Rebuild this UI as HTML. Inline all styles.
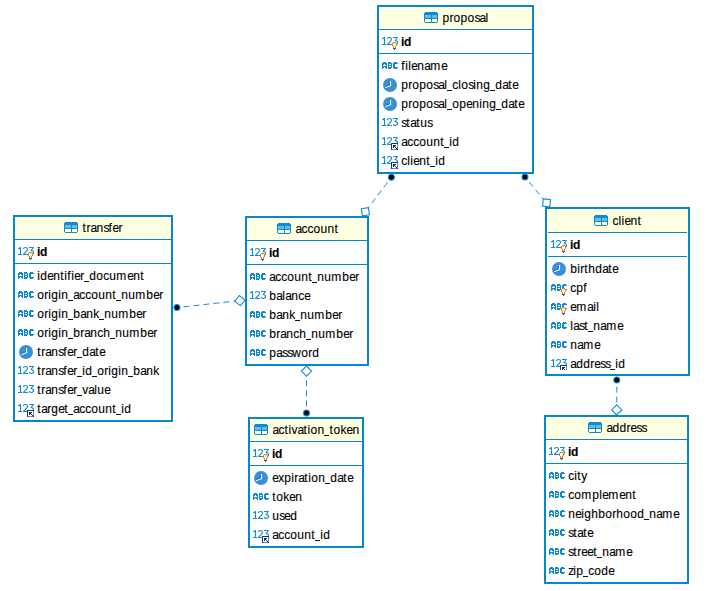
<!DOCTYPE html>
<html><head><meta charset="utf-8"><title>ER Diagram</title>
<style>
html,body{margin:0;padding:0;background:#fff;}
body{width:713px;height:591px;overflow:hidden;font-family:"Liberation Sans",sans-serif;}
svg{display:block;}
text{font-family:"Liberation Sans",sans-serif;font-size:12px;fill:#000;stroke:#000;stroke-width:.12px;}
text.b{font-weight:bold;}
</style></head>
<body>
<svg width="713" height="591" viewBox="0 0 713 591">
<rect width="713" height="591" fill="#fff"/>
<path d="M393.80 174.00L362.30 215.80" stroke="#1a8fd3" stroke-width="1" stroke-dasharray="6 4" stroke-dashoffset="-0.6" fill="none"/>
<path d="M362.30 215.80L361.30 208.66L368.44 207.65L369.44 214.80z" fill="#fff" stroke="#1a8fd3" stroke-width="1.15"/>
<circle cx="391.39" cy="177.19" r="3" fill="#000" stroke="#1a8fd3" stroke-width="1.1"/>
<path d="M522.40 174.00L549.80 206.80" stroke="#1a8fd3" stroke-width="1" stroke-dasharray="6 4" stroke-dashoffset="-0.6" fill="none"/>
<path d="M549.80 206.80L542.62 206.16L543.26 198.97L550.44 199.62z" fill="#fff" stroke="#1a8fd3" stroke-width="1.15"/>
<circle cx="524.96" cy="177.07" r="3" fill="#000" stroke="#1a8fd3" stroke-width="1.1"/>
<path d="M173.00 308.00L245.00 300.00" stroke="#1a8fd3" stroke-width="1" stroke-dasharray="6 4" stroke-dashoffset="-0.6" fill="none"/>
<path d="M245.00 300.00L240.49 305.63L234.86 301.13L239.37 295.49z" fill="#fff" stroke="#1a8fd3" stroke-width="1.15"/>
<circle cx="176.98" cy="307.56" r="3" fill="#000" stroke="#1a8fd3" stroke-width="1.1"/>
<path d="M306.50 417.00L306.50 366.00" stroke="#1a8fd3" stroke-width="1" stroke-dasharray="6 4" stroke-dashoffset="-0.6" fill="none"/>
<path d="M306.50 366.00L311.60 371.10L306.50 376.20L301.40 371.10z" fill="#fff" stroke="#1a8fd3" stroke-width="1.15"/>
<circle cx="306.50" cy="413.00" r="3" fill="#000" stroke="#1a8fd3" stroke-width="1.1"/>
<path d="M616.80 376.00L616.80 415.00" stroke="#1a8fd3" stroke-width="1" stroke-dasharray="6 4" stroke-dashoffset="-0.6" fill="none"/>
<path d="M616.80 415.00L611.70 409.90L616.80 404.80L621.90 409.90z" fill="#fff" stroke="#1a8fd3" stroke-width="1.15"/>
<circle cx="616.80" cy="380.00" r="3" fill="#000" stroke="#1a8fd3" stroke-width="1.1"/>
<rect x="378" y="6" width="155" height="167" fill="#ffffe1" stroke="#0586cd" stroke-width="2"/>
<rect x="379" y="30" width="153" height="142" fill="#fff"/>
<rect x="379" y="29" width="153" height="1" fill="#0586cd"/>
<rect x="379" y="53" width="153" height="1" fill="#0586cd"/>
<path d="M425 12h12v1h-12zM424 13h14v1h-14zM424 14h14v1h-14zM424 15h1v1h-1zM431 15h1v1h-1zM437 15h1v1h-1zM424 16h1v1h-1zM431 16h1v1h-1zM437 16h1v1h-1zM424 17h1v1h-1zM431 17h1v1h-1zM437 17h1v1h-1zM424 18h14v1h-14zM424 19h1v1h-1zM431 19h1v1h-1zM437 19h1v1h-1zM424 20h1v1h-1zM431 20h1v1h-1zM437 20h1v1h-1zM424 21h1v1h-1zM431 21h1v1h-1zM437 21h1v1h-1zM425 22h12v1h-12z" fill="#128ad1"/><path d="M425 15h6v1h-6zM432 15h5v1h-5zM425 16h6v1h-6zM432 16h5v1h-5zM425 17h6v1h-6zM432 17h5v1h-5z" fill="#62bdee"/>
<text class="t" x="442.5 449.5 453.5 460.5 467.5 474.5 479.5 485.5" y="22">proposal</text>
<path transform="translate(382 37)" d="M0.3 2.1L2.5 0.6V7.5M0 7.5H4.1M5.4 2.0Q5.5 0.5 7.5 0.5Q9.5 0.5 9.5 2.1Q9.5 3.2 8.4 4.3L5.6 7.1V7.5H10M11 0.5H15.4L13.1 3.5Q15.5 3.5 15.5 5.6Q15.5 7.5 13.4 7.5Q11.8 7.5 11.2 6.2" fill="none" stroke="#128ad1" stroke-width="1.15" stroke-linejoin="round"/>
<path d="M393 42h3v1h-3zM392 43h1v1h-1zM396 43h1v1h-1zM392 44h1v1h-1zM396 44h1v1h-1zM392 45h1v1h-1zM396 45h1v1h-1zM393 46h1v1h-1zM395 46h1v1h-1zM393 47h1v1h-1zM395 47h1v1h-1z" fill="#e8820e"/><path d="M393 43h3v1h-3z" fill="#ffe6a6"/><path d="M393 44h3v1h-3zM393 45h2v1h-2zM394 46h1v1h-1zM394 47h1v1h-1z" fill="#fffaf0"/><path d="M395 45h1v1h-1z" fill="#bfe2f8"/><path d="M393 48h3v1h-3zM394 49h1v1h-1z" fill="#3b5487"/>
<text class="b" x="401 404" y="46">id</text>
<path d="M383 62h3v1h-3zM388 62h3v1h-3zM394 62h3v1h-3zM382 63h5v1h-5zM388 63h4v1h-4zM393 63h5v1h-5zM382 64h2v1h-2zM385 64h2v1h-2zM388 64h1v1h-1zM391 64h1v1h-1zM393 64h2v1h-2zM382 65h1v1h-1zM386 65h1v1h-1zM388 65h4v1h-4zM393 65h2v1h-2zM382 66h5v1h-5zM388 66h1v1h-1zM391 66h1v1h-1zM393 66h2v1h-2zM382 67h2v1h-2zM385 67h2v1h-2zM388 67h4v1h-4zM393 67h5v1h-5zM382 68h1v1h-1zM386 68h1v1h-1zM388 68h3v1h-3zM394 68h3v1h-3z" fill="#128ad1"/>
<text class="t" x="401.3 405.3 408.3 411.3 417.3 424.3 430.3 441.3" y="70">filename</text>
<circle cx="390" cy="85" r="7" fill="#378fd8"/><path d="M389.5 81V85L385 86.8" fill="none" stroke="#1c74cc" stroke-width="1.2"/><path d="M390.5 81V85.9" fill="none" stroke="#fff" stroke-width="1.2"/><path d="M391.1 85.5L385.2 87.7" fill="none" stroke="#fff" stroke-width="1"/>
<text class="t" x="401.3 408.3 412.3 419.3 426.3 433.3 438.3 444.3" y="89">proposal</text><rect x="447" y="90" width="5" height="1" fill="#111"/><text class="t" x="452.3 458.3 461.3 468.3 473.3 476.3 483.3" y="89">closing</text><rect x="490" y="90" width="5" height="1" fill="#111"/><text class="t" x="495.3 502.3 508.3 512.3" y="89">date</text>
<circle cx="390" cy="104" r="7" fill="#378fd8"/><path d="M389.5 100V104L385 105.8" fill="none" stroke="#1c74cc" stroke-width="1.2"/><path d="M390.5 100V104.9" fill="none" stroke="#fff" stroke-width="1.2"/><path d="M391.1 104.5L385.2 106.7" fill="none" stroke="#fff" stroke-width="1"/>
<text class="t" x="401.3 408.3 412.3 419.3 426.3 433.3 438.3 444.3" y="108">proposal</text><rect x="447" y="109" width="5" height="1" fill="#111"/><text class="t" x="452.3 459.3 466.3 472.3 479.3 482.3 489.3" y="108">opening</text><rect x="496" y="109" width="5" height="1" fill="#111"/><text class="t" x="501.3 508.3 514.3 518.3" y="108">date</text>
<path transform="translate(382 118)" d="M0.3 2.1L2.5 0.6V7.5M0 7.5H4.1M5.4 2.0Q5.5 0.5 7.5 0.5Q9.5 0.5 9.5 2.1Q9.5 3.2 8.4 4.3L5.6 7.1V7.5H10M11 0.5H15.4L13.1 3.5Q15.5 3.5 15.5 5.6Q15.5 7.5 13.4 7.5Q11.8 7.5 11.2 6.2" fill="none" stroke="#128ad1" stroke-width="1.15" stroke-linejoin="round"/>
<text class="t" x="401.3 406.3 410.3 416.3 420.3 427.3" y="127">status</text>
<path transform="translate(382 137)" d="M0.3 2.1L2.5 0.6V7.5M0 7.5H4.1M5.4 2.0Q5.5 0.5 7.5 0.5Q9.5 0.5 9.5 2.1Q9.5 3.2 8.4 4.3L5.6 7.1V7.5H10M11 0.5H15.4L13.1 3.5Q15.5 3.5 15.5 5.6Q15.5 7.5 13.4 7.5Q11.8 7.5 11.2 6.2" fill="none" stroke="#128ad1" stroke-width="1.15" stroke-linejoin="round"/>
<rect x="391" y="143" width="7" height="7" fill="#fff"/><path d="M391 143h7v1h-7zM391 144h1v1h-1zM391 145h1v1h-1zM391 146h1v1h-1zM391 147h1v1h-1zM391 148h1v1h-1zM391 149h1v1h-1z" fill="#1c3a6e"/><path d="M397 144h1v1h-1zM397 145h1v1h-1zM397 146h1v1h-1zM397 147h1v1h-1zM397 148h1v1h-1zM392 149h6v1h-6z" fill="#6d84aa"/><path d="M393 145h3v1h-3zM393 146h2v1h-2zM393 147h1v1h-1zM395 147h1v1h-1zM396 148h1v1h-1zM397 149h1v1h-1z" fill="#14295a"/>
<text class="t" x="401.3 407.3 413.3 419.3 426.3 433.3 440.3" y="146">account</text><rect x="444" y="147" width="5" height="1" fill="#111"/><text class="t" x="449.3 452.3" y="146">id</text>
<path transform="translate(382 156)" d="M0.3 2.1L2.5 0.6V7.5M0 7.5H4.1M5.4 2.0Q5.5 0.5 7.5 0.5Q9.5 0.5 9.5 2.1Q9.5 3.2 8.4 4.3L5.6 7.1V7.5H10M11 0.5H15.4L13.1 3.5Q15.5 3.5 15.5 5.6Q15.5 7.5 13.4 7.5Q11.8 7.5 11.2 6.2" fill="none" stroke="#128ad1" stroke-width="1.15" stroke-linejoin="round"/>
<rect x="391" y="162" width="7" height="7" fill="#fff"/><path d="M391 162h7v1h-7zM391 163h1v1h-1zM391 164h1v1h-1zM391 165h1v1h-1zM391 166h1v1h-1zM391 167h1v1h-1zM391 168h1v1h-1z" fill="#1c3a6e"/><path d="M397 163h1v1h-1zM397 164h1v1h-1zM397 165h1v1h-1zM397 166h1v1h-1zM397 167h1v1h-1zM392 168h6v1h-6z" fill="#6d84aa"/><path d="M393 164h3v1h-3zM393 165h2v1h-2zM393 166h1v1h-1zM395 166h1v1h-1zM396 167h1v1h-1zM397 168h1v1h-1z" fill="#14295a"/>
<text class="t" x="401.3 407.3 410.3 413.3 419.3 426.3" y="165">client</text><rect x="430" y="166" width="5" height="1" fill="#111"/><text class="t" x="435.3 438.3" y="165">id</text>
<rect x="14" y="216" width="158" height="205" fill="#ffffe1" stroke="#0586cd" stroke-width="2"/>
<rect x="15" y="240" width="156" height="180" fill="#fff"/>
<rect x="15" y="239" width="156" height="1" fill="#0586cd"/>
<rect x="15" y="263" width="156" height="1" fill="#0586cd"/>
<path d="M65 222h12v1h-12zM64 223h14v1h-14zM64 224h14v1h-14zM64 225h1v1h-1zM71 225h1v1h-1zM77 225h1v1h-1zM64 226h1v1h-1zM71 226h1v1h-1zM77 226h1v1h-1zM64 227h1v1h-1zM71 227h1v1h-1zM77 227h1v1h-1zM64 228h14v1h-14zM64 229h1v1h-1zM71 229h1v1h-1zM77 229h1v1h-1zM64 230h1v1h-1zM71 230h1v1h-1zM77 230h1v1h-1zM64 231h1v1h-1zM71 231h1v1h-1zM77 231h1v1h-1zM65 232h12v1h-12z" fill="#128ad1"/><path d="M65 225h6v1h-6zM72 225h5v1h-5zM65 226h6v1h-6zM72 226h5v1h-5zM65 227h6v1h-6zM72 227h5v1h-5z" fill="#62bdee"/>
<text class="t" x="82.5 86.5 90.5 96.5 103.5 108.5 112.5 118.5" y="232">transfer</text>
<path transform="translate(18 247)" d="M0.3 2.1L2.5 0.6V7.5M0 7.5H4.1M5.4 2.0Q5.5 0.5 7.5 0.5Q9.5 0.5 9.5 2.1Q9.5 3.2 8.4 4.3L5.6 7.1V7.5H10M11 0.5H15.4L13.1 3.5Q15.5 3.5 15.5 5.6Q15.5 7.5 13.4 7.5Q11.8 7.5 11.2 6.2" fill="none" stroke="#128ad1" stroke-width="1.15" stroke-linejoin="round"/>
<path d="M29 252h3v1h-3zM28 253h1v1h-1zM32 253h1v1h-1zM28 254h1v1h-1zM32 254h1v1h-1zM28 255h1v1h-1zM32 255h1v1h-1zM29 256h1v1h-1zM31 256h1v1h-1zM29 257h1v1h-1zM31 257h1v1h-1z" fill="#e8820e"/><path d="M29 253h3v1h-3z" fill="#ffe6a6"/><path d="M29 254h3v1h-3zM29 255h2v1h-2zM30 256h1v1h-1zM30 257h1v1h-1z" fill="#fffaf0"/><path d="M31 255h1v1h-1z" fill="#bfe2f8"/><path d="M29 258h3v1h-3zM30 259h1v1h-1z" fill="#3b5487"/>
<text class="b" x="37 40" y="256">id</text>
<path d="M19 272h3v1h-3zM24 272h3v1h-3zM30 272h3v1h-3zM18 273h5v1h-5zM24 273h4v1h-4zM29 273h5v1h-5zM18 274h2v1h-2zM21 274h2v1h-2zM24 274h1v1h-1zM27 274h1v1h-1zM29 274h2v1h-2zM18 275h1v1h-1zM22 275h1v1h-1zM24 275h4v1h-4zM29 275h2v1h-2zM18 276h5v1h-5zM24 276h1v1h-1zM27 276h1v1h-1zM29 276h2v1h-2zM18 277h2v1h-2zM21 277h2v1h-2zM24 277h4v1h-4zM29 277h5v1h-5zM18 278h1v1h-1zM22 278h1v1h-1zM24 278h3v1h-3zM30 278h3v1h-3z" fill="#128ad1"/>
<text class="t" x="37.3 40.3 47.3 53.3 60.3 64.3 67.3 71.3 74.3 80.3" y="280">identifier</text><rect x="84" y="281" width="5" height="1" fill="#111"/><text class="t" x="89.3 96.3 103.3 109.3 116.3 127.3 133.3 140.3" y="280">document</text>
<path d="M19 291h3v1h-3zM24 291h3v1h-3zM30 291h3v1h-3zM18 292h5v1h-5zM24 292h4v1h-4zM29 292h5v1h-5zM18 293h2v1h-2zM21 293h2v1h-2zM24 293h1v1h-1zM27 293h1v1h-1zM29 293h2v1h-2zM18 294h1v1h-1zM22 294h1v1h-1zM24 294h4v1h-4zM29 294h2v1h-2zM18 295h5v1h-5zM24 295h1v1h-1zM27 295h1v1h-1zM29 295h2v1h-2zM18 296h2v1h-2zM21 296h2v1h-2zM24 296h4v1h-4zM29 296h5v1h-5zM18 297h1v1h-1zM22 297h1v1h-1zM24 297h3v1h-3zM30 297h3v1h-3z" fill="#128ad1"/>
<text class="t" x="37.3 44.3 48.3 51.3 58.3 61.3" y="299">origin</text><rect x="68" y="300" width="5" height="1" fill="#111"/><text class="t" x="73.3 79.3 85.3 91.3 98.3 105.3 112.3" y="299">account</text><rect x="116" y="300" width="5" height="1" fill="#111"/><text class="t" x="121.3 128.3 135.3 146.3 153.3 159.3" y="299">number</text>
<path d="M19 310h3v1h-3zM24 310h3v1h-3zM30 310h3v1h-3zM18 311h5v1h-5zM24 311h4v1h-4zM29 311h5v1h-5zM18 312h2v1h-2zM21 312h2v1h-2zM24 312h1v1h-1zM27 312h1v1h-1zM29 312h2v1h-2zM18 313h1v1h-1zM22 313h1v1h-1zM24 313h4v1h-4zM29 313h2v1h-2zM18 314h5v1h-5zM24 314h1v1h-1zM27 314h1v1h-1zM29 314h2v1h-2zM18 315h2v1h-2zM21 315h2v1h-2zM24 315h4v1h-4zM29 315h5v1h-5zM18 316h1v1h-1zM22 316h1v1h-1zM24 316h3v1h-3zM30 316h3v1h-3z" fill="#128ad1"/>
<text class="t" x="37.3 44.3 48.3 51.3 58.3 61.3" y="318">origin</text><rect x="68" y="319" width="5" height="1" fill="#111"/><text class="t" x="73.3 80.3 86.3 93.3" y="318">bank</text><rect x="99" y="319" width="5" height="1" fill="#111"/><text class="t" x="104.3 111.3 118.3 129.3 136.3 142.3" y="318">number</text>
<path d="M19 329h3v1h-3zM24 329h3v1h-3zM30 329h3v1h-3zM18 330h5v1h-5zM24 330h4v1h-4zM29 330h5v1h-5zM18 331h2v1h-2zM21 331h2v1h-2zM24 331h1v1h-1zM27 331h1v1h-1zM29 331h2v1h-2zM18 332h1v1h-1zM22 332h1v1h-1zM24 332h4v1h-4zM29 332h2v1h-2zM18 333h5v1h-5zM24 333h1v1h-1zM27 333h1v1h-1zM29 333h2v1h-2zM18 334h2v1h-2zM21 334h2v1h-2zM24 334h4v1h-4zM29 334h5v1h-5zM18 335h1v1h-1zM22 335h1v1h-1zM24 335h3v1h-3zM30 335h3v1h-3z" fill="#128ad1"/>
<text class="t" x="37.3 44.3 48.3 51.3 58.3 61.3" y="337">origin</text><rect x="68" y="338" width="5" height="1" fill="#111"/><text class="t" x="73.3 80.3 84.3 90.3 97.3 103.3" y="337">branch</text><rect x="110" y="338" width="5" height="1" fill="#111"/><text class="t" x="115.3 122.3 129.3 140.3 147.3 153.3" y="337">number</text>
<circle cx="26" cy="352" r="7" fill="#378fd8"/><path d="M25.5 348V352L21 353.8" fill="none" stroke="#1c74cc" stroke-width="1.2"/><path d="M26.5 348V352.9" fill="none" stroke="#fff" stroke-width="1.2"/><path d="M27.1 352.5L21.2 354.7" fill="none" stroke="#fff" stroke-width="1"/>
<text class="t" x="37.3 41.3 45.3 51.3 58.3 63.3 67.3 73.3" y="356">transfer</text><rect x="77" y="357" width="5" height="1" fill="#111"/><text class="t" x="82.3 89.3 95.3 99.3" y="356">date</text>
<path transform="translate(18 366)" d="M0.3 2.1L2.5 0.6V7.5M0 7.5H4.1M5.4 2.0Q5.5 0.5 7.5 0.5Q9.5 0.5 9.5 2.1Q9.5 3.2 8.4 4.3L5.6 7.1V7.5H10M11 0.5H15.4L13.1 3.5Q15.5 3.5 15.5 5.6Q15.5 7.5 13.4 7.5Q11.8 7.5 11.2 6.2" fill="none" stroke="#128ad1" stroke-width="1.15" stroke-linejoin="round"/>
<text class="t" x="37.3 41.3 45.3 51.3 58.3 63.3 67.3 73.3" y="375">transfer</text><rect x="77" y="376" width="5" height="1" fill="#111"/><text class="t" x="82.3 85.3" y="375">id</text><rect x="92" y="376" width="5" height="1" fill="#111"/><text class="t" x="97.3 104.3 108.3 111.3 118.3 121.3" y="375">origin</text><rect x="128" y="376" width="5" height="1" fill="#111"/><text class="t" x="133.3 140.3 146.3 153.3" y="375">bank</text>
<path transform="translate(18 385)" d="M0.3 2.1L2.5 0.6V7.5M0 7.5H4.1M5.4 2.0Q5.5 0.5 7.5 0.5Q9.5 0.5 9.5 2.1Q9.5 3.2 8.4 4.3L5.6 7.1V7.5H10M11 0.5H15.4L13.1 3.5Q15.5 3.5 15.5 5.6Q15.5 7.5 13.4 7.5Q11.8 7.5 11.2 6.2" fill="none" stroke="#128ad1" stroke-width="1.15" stroke-linejoin="round"/>
<text class="t" x="37.3 41.3 45.3 51.3 58.3 63.3 67.3 73.3" y="394">transfer</text><rect x="77" y="395" width="5" height="1" fill="#111"/><text class="t" x="82.3 88.3 94.3 97.3 104.3" y="394">value</text>
<path transform="translate(18 404)" d="M0.3 2.1L2.5 0.6V7.5M0 7.5H4.1M5.4 2.0Q5.5 0.5 7.5 0.5Q9.5 0.5 9.5 2.1Q9.5 3.2 8.4 4.3L5.6 7.1V7.5H10M11 0.5H15.4L13.1 3.5Q15.5 3.5 15.5 5.6Q15.5 7.5 13.4 7.5Q11.8 7.5 11.2 6.2" fill="none" stroke="#128ad1" stroke-width="1.15" stroke-linejoin="round"/>
<rect x="27" y="410" width="7" height="7" fill="#fff"/><path d="M27 410h7v1h-7zM27 411h1v1h-1zM27 412h1v1h-1zM27 413h1v1h-1zM27 414h1v1h-1zM27 415h1v1h-1zM27 416h1v1h-1z" fill="#1c3a6e"/><path d="M33 411h1v1h-1zM33 412h1v1h-1zM33 413h1v1h-1zM33 414h1v1h-1zM33 415h1v1h-1zM28 416h6v1h-6z" fill="#6d84aa"/><path d="M29 412h3v1h-3zM29 413h2v1h-2zM29 414h1v1h-1zM31 414h1v1h-1zM32 415h1v1h-1zM33 416h1v1h-1z" fill="#14295a"/>
<text class="t" x="37.3 41.3 47.3 51.3 58.3 64.3" y="413">target</text><rect x="68" y="414" width="5" height="1" fill="#111"/><text class="t" x="73.3 79.3 85.3 91.3 98.3 105.3 112.3" y="413">account</text><rect x="116" y="414" width="5" height="1" fill="#111"/><text class="t" x="121.3 124.3" y="413">id</text>
<rect x="246" y="217" width="122" height="148" fill="#ffffe1" stroke="#0586cd" stroke-width="2"/>
<rect x="247" y="241" width="120" height="123" fill="#fff"/>
<rect x="247" y="240" width="120" height="1" fill="#0586cd"/>
<rect x="247" y="264" width="120" height="1" fill="#0586cd"/>
<path d="M278 223h12v1h-12zM277 224h14v1h-14zM277 225h14v1h-14zM277 226h1v1h-1zM284 226h1v1h-1zM290 226h1v1h-1zM277 227h1v1h-1zM284 227h1v1h-1zM290 227h1v1h-1zM277 228h1v1h-1zM284 228h1v1h-1zM290 228h1v1h-1zM277 229h14v1h-14zM277 230h1v1h-1zM284 230h1v1h-1zM290 230h1v1h-1zM277 231h1v1h-1zM284 231h1v1h-1zM290 231h1v1h-1zM277 232h1v1h-1zM284 232h1v1h-1zM290 232h1v1h-1zM278 233h12v1h-12z" fill="#128ad1"/><path d="M278 226h6v1h-6zM285 226h5v1h-5zM278 227h6v1h-6zM285 227h5v1h-5zM278 228h6v1h-6zM285 228h5v1h-5z" fill="#62bdee"/>
<text class="t" x="295.5 301.5 307.5 313.5 320.5 327.5 334.5" y="233">account</text>
<path transform="translate(250 248)" d="M0.3 2.1L2.5 0.6V7.5M0 7.5H4.1M5.4 2.0Q5.5 0.5 7.5 0.5Q9.5 0.5 9.5 2.1Q9.5 3.2 8.4 4.3L5.6 7.1V7.5H10M11 0.5H15.4L13.1 3.5Q15.5 3.5 15.5 5.6Q15.5 7.5 13.4 7.5Q11.8 7.5 11.2 6.2" fill="none" stroke="#128ad1" stroke-width="1.15" stroke-linejoin="round"/>
<path d="M261 253h3v1h-3zM260 254h1v1h-1zM264 254h1v1h-1zM260 255h1v1h-1zM264 255h1v1h-1zM260 256h1v1h-1zM264 256h1v1h-1zM261 257h1v1h-1zM263 257h1v1h-1zM261 258h1v1h-1zM263 258h1v1h-1z" fill="#e8820e"/><path d="M261 254h3v1h-3z" fill="#ffe6a6"/><path d="M261 255h3v1h-3zM261 256h2v1h-2zM262 257h1v1h-1zM262 258h1v1h-1z" fill="#fffaf0"/><path d="M263 256h1v1h-1z" fill="#bfe2f8"/><path d="M261 259h3v1h-3zM262 260h1v1h-1z" fill="#3b5487"/>
<text class="b" x="269 272" y="257">id</text>
<path d="M251 273h3v1h-3zM256 273h3v1h-3zM262 273h3v1h-3zM250 274h5v1h-5zM256 274h4v1h-4zM261 274h5v1h-5zM250 275h2v1h-2zM253 275h2v1h-2zM256 275h1v1h-1zM259 275h1v1h-1zM261 275h2v1h-2zM250 276h1v1h-1zM254 276h1v1h-1zM256 276h4v1h-4zM261 276h2v1h-2zM250 277h5v1h-5zM256 277h1v1h-1zM259 277h1v1h-1zM261 277h2v1h-2zM250 278h2v1h-2zM253 278h2v1h-2zM256 278h4v1h-4zM261 278h5v1h-5zM250 279h1v1h-1zM254 279h1v1h-1zM256 279h3v1h-3zM262 279h3v1h-3z" fill="#128ad1"/>
<text class="t" x="269.3 275.3 281.3 287.3 294.3 301.3 308.3" y="281">account</text><rect x="312" y="282" width="5" height="1" fill="#111"/><text class="t" x="317.3 324.3 331.3 342.3 349.3 355.3" y="281">number</text>
<path transform="translate(250 291)" d="M0.3 2.1L2.5 0.6V7.5M0 7.5H4.1M5.4 2.0Q5.5 0.5 7.5 0.5Q9.5 0.5 9.5 2.1Q9.5 3.2 8.4 4.3L5.6 7.1V7.5H10M11 0.5H15.4L13.1 3.5Q15.5 3.5 15.5 5.6Q15.5 7.5 13.4 7.5Q11.8 7.5 11.2 6.2" fill="none" stroke="#128ad1" stroke-width="1.15" stroke-linejoin="round"/>
<text class="t" x="269.3 276.3 282.3 285.3 291.3 298.3 304.3" y="300">balance</text>
<path d="M251 311h3v1h-3zM256 311h3v1h-3zM262 311h3v1h-3zM250 312h5v1h-5zM256 312h4v1h-4zM261 312h5v1h-5zM250 313h2v1h-2zM253 313h2v1h-2zM256 313h1v1h-1zM259 313h1v1h-1zM261 313h2v1h-2zM250 314h1v1h-1zM254 314h1v1h-1zM256 314h4v1h-4zM261 314h2v1h-2zM250 315h5v1h-5zM256 315h1v1h-1zM259 315h1v1h-1zM261 315h2v1h-2zM250 316h2v1h-2zM253 316h2v1h-2zM256 316h4v1h-4zM261 316h5v1h-5zM250 317h1v1h-1zM254 317h1v1h-1zM256 317h3v1h-3zM262 317h3v1h-3z" fill="#128ad1"/>
<text class="t" x="269.3 276.3 282.3 289.3" y="319">bank</text><rect x="295" y="320" width="5" height="1" fill="#111"/><text class="t" x="300.3 307.3 314.3 325.3 332.3 338.3" y="319">number</text>
<path d="M251 330h3v1h-3zM256 330h3v1h-3zM262 330h3v1h-3zM250 331h5v1h-5zM256 331h4v1h-4zM261 331h5v1h-5zM250 332h2v1h-2zM253 332h2v1h-2zM256 332h1v1h-1zM259 332h1v1h-1zM261 332h2v1h-2zM250 333h1v1h-1zM254 333h1v1h-1zM256 333h4v1h-4zM261 333h2v1h-2zM250 334h5v1h-5zM256 334h1v1h-1zM259 334h1v1h-1zM261 334h2v1h-2zM250 335h2v1h-2zM253 335h2v1h-2zM256 335h4v1h-4zM261 335h5v1h-5zM250 336h1v1h-1zM254 336h1v1h-1zM256 336h3v1h-3zM262 336h3v1h-3z" fill="#128ad1"/>
<text class="t" x="269.3 276.3 280.3 286.3 293.3 299.3" y="338">branch</text><rect x="306" y="339" width="5" height="1" fill="#111"/><text class="t" x="311.3 318.3 325.3 336.3 343.3 349.3" y="338">number</text>
<path d="M251 349h3v1h-3zM256 349h3v1h-3zM262 349h3v1h-3zM250 350h5v1h-5zM256 350h4v1h-4zM261 350h5v1h-5zM250 351h2v1h-2zM253 351h2v1h-2zM256 351h1v1h-1zM259 351h1v1h-1zM261 351h2v1h-2zM250 352h1v1h-1zM254 352h1v1h-1zM256 352h4v1h-4zM261 352h2v1h-2zM250 353h5v1h-5zM256 353h1v1h-1zM259 353h1v1h-1zM261 353h2v1h-2zM250 354h2v1h-2zM253 354h2v1h-2zM256 354h4v1h-4zM261 354h5v1h-5zM250 355h1v1h-1zM254 355h1v1h-1zM256 355h3v1h-3zM262 355h3v1h-3z" fill="#128ad1"/>
<text class="t" x="269.3 276.3 282.3 287.3 292.3 301.3 308.3 312.3" y="357">password</text>
<rect x="249" y="418" width="114" height="129" fill="#ffffe1" stroke="#0586cd" stroke-width="2"/>
<rect x="250" y="442" width="112" height="104" fill="#fff"/>
<rect x="250" y="441" width="112" height="1" fill="#0586cd"/>
<rect x="250" y="465" width="112" height="1" fill="#0586cd"/>
<path d="M255 424h12v1h-12zM254 425h14v1h-14zM254 426h14v1h-14zM254 427h1v1h-1zM261 427h1v1h-1zM267 427h1v1h-1zM254 428h1v1h-1zM261 428h1v1h-1zM267 428h1v1h-1zM254 429h1v1h-1zM261 429h1v1h-1zM267 429h1v1h-1zM254 430h14v1h-14zM254 431h1v1h-1zM261 431h1v1h-1zM267 431h1v1h-1zM254 432h1v1h-1zM261 432h1v1h-1zM267 432h1v1h-1zM254 433h1v1h-1zM261 433h1v1h-1zM267 433h1v1h-1zM255 434h12v1h-12z" fill="#128ad1"/><path d="M255 427h6v1h-6zM262 427h5v1h-5zM255 428h6v1h-6zM262 428h5v1h-5zM255 429h6v1h-6zM262 429h5v1h-5z" fill="#62bdee"/>
<text class="t" x="272.5 278.5 284.5 288.5 291.5 297.5 303.5 307.5 310.5 317.5" y="434">activation</text><rect x="324" y="435" width="5" height="1" fill="#111"/><text class="t" x="329.5 333.5 340.5 346.5 352.5" y="434">token</text>
<path transform="translate(253 449)" d="M0.3 2.1L2.5 0.6V7.5M0 7.5H4.1M5.4 2.0Q5.5 0.5 7.5 0.5Q9.5 0.5 9.5 2.1Q9.5 3.2 8.4 4.3L5.6 7.1V7.5H10M11 0.5H15.4L13.1 3.5Q15.5 3.5 15.5 5.6Q15.5 7.5 13.4 7.5Q11.8 7.5 11.2 6.2" fill="none" stroke="#128ad1" stroke-width="1.15" stroke-linejoin="round"/>
<path d="M264 454h3v1h-3zM263 455h1v1h-1zM267 455h1v1h-1zM263 456h1v1h-1zM267 456h1v1h-1zM263 457h1v1h-1zM267 457h1v1h-1zM264 458h1v1h-1zM266 458h1v1h-1zM264 459h1v1h-1zM266 459h1v1h-1z" fill="#e8820e"/><path d="M264 455h3v1h-3z" fill="#ffe6a6"/><path d="M264 456h3v1h-3zM264 457h2v1h-2zM265 458h1v1h-1zM265 459h1v1h-1z" fill="#fffaf0"/><path d="M266 457h1v1h-1z" fill="#bfe2f8"/><path d="M264 460h3v1h-3zM265 461h1v1h-1z" fill="#3b5487"/>
<text class="b" x="272 275" y="458">id</text>
<circle cx="261" cy="478" r="7" fill="#378fd8"/><path d="M260.5 474V478L256 479.8" fill="none" stroke="#1c74cc" stroke-width="1.2"/><path d="M261.5 474V478.9" fill="none" stroke="#fff" stroke-width="1.2"/><path d="M262.1 478.5L256.2 480.7" fill="none" stroke="#fff" stroke-width="1"/>
<text class="t" x="272.3 278.3 284.3 291.3 294.3 298.3 304.3 308.3 311.3 318.3" y="482">expiration</text><rect x="325" y="483" width="5" height="1" fill="#111"/><text class="t" x="330.3 337.3 343.3 347.3" y="482">date</text>
<path d="M254 493h3v1h-3zM259 493h3v1h-3zM265 493h3v1h-3zM253 494h5v1h-5zM259 494h4v1h-4zM264 494h5v1h-5zM253 495h2v1h-2zM256 495h2v1h-2zM259 495h1v1h-1zM262 495h1v1h-1zM264 495h2v1h-2zM253 496h1v1h-1zM257 496h1v1h-1zM259 496h4v1h-4zM264 496h2v1h-2zM253 497h5v1h-5zM259 497h1v1h-1zM262 497h1v1h-1zM264 497h2v1h-2zM253 498h2v1h-2zM256 498h2v1h-2zM259 498h4v1h-4zM264 498h5v1h-5zM253 499h1v1h-1zM257 499h1v1h-1zM259 499h3v1h-3zM265 499h3v1h-3z" fill="#128ad1"/>
<text class="t" x="272.3 276.3 283.3 289.3 295.3" y="501">token</text>
<path transform="translate(253 511)" d="M0.3 2.1L2.5 0.6V7.5M0 7.5H4.1M5.4 2.0Q5.5 0.5 7.5 0.5Q9.5 0.5 9.5 2.1Q9.5 3.2 8.4 4.3L5.6 7.1V7.5H10M11 0.5H15.4L13.1 3.5Q15.5 3.5 15.5 5.6Q15.5 7.5 13.4 7.5Q11.8 7.5 11.2 6.2" fill="none" stroke="#128ad1" stroke-width="1.15" stroke-linejoin="round"/>
<text class="t" x="272.3 279.3 284.3 290.3" y="520">used</text>
<path transform="translate(253 530)" d="M0.3 2.1L2.5 0.6V7.5M0 7.5H4.1M5.4 2.0Q5.5 0.5 7.5 0.5Q9.5 0.5 9.5 2.1Q9.5 3.2 8.4 4.3L5.6 7.1V7.5H10M11 0.5H15.4L13.1 3.5Q15.5 3.5 15.5 5.6Q15.5 7.5 13.4 7.5Q11.8 7.5 11.2 6.2" fill="none" stroke="#128ad1" stroke-width="1.15" stroke-linejoin="round"/>
<rect x="262" y="536" width="7" height="7" fill="#fff"/><path d="M262 536h7v1h-7zM262 537h1v1h-1zM262 538h1v1h-1zM262 539h1v1h-1zM262 540h1v1h-1zM262 541h1v1h-1zM262 542h1v1h-1z" fill="#1c3a6e"/><path d="M268 537h1v1h-1zM268 538h1v1h-1zM268 539h1v1h-1zM268 540h1v1h-1zM268 541h1v1h-1zM263 542h6v1h-6z" fill="#6d84aa"/><path d="M264 538h3v1h-3zM264 539h2v1h-2zM264 540h1v1h-1zM266 540h1v1h-1zM267 541h1v1h-1zM268 542h1v1h-1z" fill="#14295a"/>
<text class="t" x="272.3 278.3 284.3 290.3 297.3 304.3 311.3" y="539">account</text><rect x="315" y="540" width="5" height="1" fill="#111"/><text class="t" x="320.3 323.3" y="539">id</text>
<rect x="546" y="208" width="143" height="167" fill="#ffffe1" stroke="#0586cd" stroke-width="2"/>
<rect x="548" y="233" width="139" height="140" fill="#fff"/>
<rect x="548" y="232" width="139" height="1" fill="#0586cd"/>
<rect x="548" y="256" width="139" height="1" fill="#0586cd"/>
<path d="M595 215h12v1h-12zM594 216h14v1h-14zM594 217h14v1h-14zM594 218h1v1h-1zM601 218h1v1h-1zM607 218h1v1h-1zM594 219h1v1h-1zM601 219h1v1h-1zM607 219h1v1h-1zM594 220h1v1h-1zM601 220h1v1h-1zM607 220h1v1h-1zM594 221h14v1h-14zM594 222h1v1h-1zM601 222h1v1h-1zM607 222h1v1h-1zM594 223h1v1h-1zM601 223h1v1h-1zM607 223h1v1h-1zM594 224h1v1h-1zM601 224h1v1h-1zM607 224h1v1h-1zM595 225h12v1h-12z" fill="#128ad1"/><path d="M595 218h6v1h-6zM602 218h5v1h-5zM595 219h6v1h-6zM602 219h5v1h-5zM595 220h6v1h-6zM602 220h5v1h-5z" fill="#62bdee"/>
<text class="t" x="612.5 618.5 621.5 624.5 630.5 637.5" y="225">client</text>
<path transform="translate(551 240)" d="M0.3 2.1L2.5 0.6V7.5M0 7.5H4.1M5.4 2.0Q5.5 0.5 7.5 0.5Q9.5 0.5 9.5 2.1Q9.5 3.2 8.4 4.3L5.6 7.1V7.5H10M11 0.5H15.4L13.1 3.5Q15.5 3.5 15.5 5.6Q15.5 7.5 13.4 7.5Q11.8 7.5 11.2 6.2" fill="none" stroke="#128ad1" stroke-width="1.15" stroke-linejoin="round"/>
<path d="M562 245h3v1h-3zM561 246h1v1h-1zM565 246h1v1h-1zM561 247h1v1h-1zM565 247h1v1h-1zM561 248h1v1h-1zM565 248h1v1h-1zM562 249h1v1h-1zM564 249h1v1h-1zM562 250h1v1h-1zM564 250h1v1h-1z" fill="#e8820e"/><path d="M562 246h3v1h-3z" fill="#ffe6a6"/><path d="M562 247h3v1h-3zM562 248h2v1h-2zM563 249h1v1h-1zM563 250h1v1h-1z" fill="#fffaf0"/><path d="M564 248h1v1h-1z" fill="#bfe2f8"/><path d="M562 251h3v1h-3zM563 252h1v1h-1z" fill="#3b5487"/>
<text class="b" x="570 573" y="249">id</text>
<circle cx="559" cy="269" r="7" fill="#378fd8"/><path d="M558.5 265V269L554 270.8" fill="none" stroke="#1c74cc" stroke-width="1.2"/><path d="M559.5 265V269.9" fill="none" stroke="#fff" stroke-width="1.2"/><path d="M560.1 269.5L554.2 271.7" fill="none" stroke="#fff" stroke-width="1"/>
<text class="t" x="570.3 577.3 580.3 584.3 588.3 595.3 602.3 608.3 612.3" y="273">birthdate</text>
<path d="M552 284h3v1h-3zM557 284h3v1h-3zM563 284h3v1h-3zM551 285h5v1h-5zM557 285h4v1h-4zM562 285h5v1h-5zM551 286h2v1h-2zM554 286h2v1h-2zM557 286h1v1h-1zM560 286h1v1h-1zM562 286h2v1h-2zM551 287h1v1h-1zM555 287h1v1h-1zM557 287h4v1h-4zM562 287h2v1h-2zM551 288h5v1h-5zM557 288h1v1h-1zM560 288h1v1h-1zM562 288h2v1h-2zM551 289h2v1h-2zM554 289h2v1h-2zM557 289h4v1h-4zM562 289h5v1h-5zM551 290h1v1h-1zM555 290h1v1h-1zM557 290h3v1h-3zM563 290h3v1h-3z" fill="#128ad1"/>
<path d="M562 288h3v1h-3zM561 289h1v1h-1zM565 289h1v1h-1zM561 290h1v1h-1zM565 290h1v1h-1zM561 291h1v1h-1zM565 291h1v1h-1zM562 292h1v1h-1zM564 292h1v1h-1zM562 293h1v1h-1zM564 293h1v1h-1z" fill="#e8820e"/><path d="M562 289h3v1h-3z" fill="#ffe6a6"/><path d="M562 290h3v1h-3zM562 291h2v1h-2zM563 292h1v1h-1zM563 293h1v1h-1z" fill="#fffaf0"/><path d="M564 291h1v1h-1z" fill="#bfe2f8"/><path d="M562 294h3v1h-3zM563 295h1v1h-1z" fill="#3b5487"/>
<text class="t" x="570.3 576.3 583.3" y="292">cpf</text>
<path d="M552 303h3v1h-3zM557 303h3v1h-3zM563 303h3v1h-3zM551 304h5v1h-5zM557 304h4v1h-4zM562 304h5v1h-5zM551 305h2v1h-2zM554 305h2v1h-2zM557 305h1v1h-1zM560 305h1v1h-1zM562 305h2v1h-2zM551 306h1v1h-1zM555 306h1v1h-1zM557 306h4v1h-4zM562 306h2v1h-2zM551 307h5v1h-5zM557 307h1v1h-1zM560 307h1v1h-1zM562 307h2v1h-2zM551 308h2v1h-2zM554 308h2v1h-2zM557 308h4v1h-4zM562 308h5v1h-5zM551 309h1v1h-1zM555 309h1v1h-1zM557 309h3v1h-3zM563 309h3v1h-3z" fill="#128ad1"/>
<path d="M562 307h3v1h-3zM561 308h1v1h-1zM565 308h1v1h-1zM561 309h1v1h-1zM565 309h1v1h-1zM561 310h1v1h-1zM565 310h1v1h-1zM562 311h1v1h-1zM564 311h1v1h-1zM562 312h1v1h-1zM564 312h1v1h-1z" fill="#e8820e"/><path d="M562 308h3v1h-3z" fill="#ffe6a6"/><path d="M562 309h3v1h-3zM562 310h2v1h-2zM563 311h1v1h-1zM563 312h1v1h-1z" fill="#fffaf0"/><path d="M564 310h1v1h-1z" fill="#bfe2f8"/><path d="M562 313h3v1h-3zM563 314h1v1h-1z" fill="#3b5487"/>
<text class="t" x="570.3 576.3 587.3 593.3 596.3" y="311">email</text>
<path d="M552 322h3v1h-3zM557 322h3v1h-3zM563 322h3v1h-3zM551 323h5v1h-5zM557 323h4v1h-4zM562 323h5v1h-5zM551 324h2v1h-2zM554 324h2v1h-2zM557 324h1v1h-1zM560 324h1v1h-1zM562 324h2v1h-2zM551 325h1v1h-1zM555 325h1v1h-1zM557 325h4v1h-4zM562 325h2v1h-2zM551 326h5v1h-5zM557 326h1v1h-1zM560 326h1v1h-1zM562 326h2v1h-2zM551 327h2v1h-2zM554 327h2v1h-2zM557 327h4v1h-4zM562 327h5v1h-5zM551 328h1v1h-1zM555 328h1v1h-1zM557 328h3v1h-3zM563 328h3v1h-3z" fill="#128ad1"/>
<text class="t" x="570.3 573.3 579.3 584.3" y="330">last</text><rect x="588" y="331" width="5" height="1" fill="#111"/><text class="t" x="593.3 600.3 606.3 617.3" y="330">name</text>
<path d="M552 341h3v1h-3zM557 341h3v1h-3zM563 341h3v1h-3zM551 342h5v1h-5zM557 342h4v1h-4zM562 342h5v1h-5zM551 343h2v1h-2zM554 343h2v1h-2zM557 343h1v1h-1zM560 343h1v1h-1zM562 343h2v1h-2zM551 344h1v1h-1zM555 344h1v1h-1zM557 344h4v1h-4zM562 344h2v1h-2zM551 345h5v1h-5zM557 345h1v1h-1zM560 345h1v1h-1zM562 345h2v1h-2zM551 346h2v1h-2zM554 346h2v1h-2zM557 346h4v1h-4zM562 346h5v1h-5zM551 347h1v1h-1zM555 347h1v1h-1zM557 347h3v1h-3zM563 347h3v1h-3z" fill="#128ad1"/>
<text class="t" x="570.3 577.3 583.3 594.3" y="349">name</text>
<path transform="translate(551 359)" d="M0.3 2.1L2.5 0.6V7.5M0 7.5H4.1M5.4 2.0Q5.5 0.5 7.5 0.5Q9.5 0.5 9.5 2.1Q9.5 3.2 8.4 4.3L5.6 7.1V7.5H10M11 0.5H15.4L13.1 3.5Q15.5 3.5 15.5 5.6Q15.5 7.5 13.4 7.5Q11.8 7.5 11.2 6.2" fill="none" stroke="#128ad1" stroke-width="1.15" stroke-linejoin="round"/>
<rect x="560" y="365" width="7" height="7" fill="#fff"/><path d="M560 365h7v1h-7zM560 366h1v1h-1zM560 367h1v1h-1zM560 368h1v1h-1zM560 369h1v1h-1zM560 370h1v1h-1zM560 371h1v1h-1z" fill="#1c3a6e"/><path d="M566 366h1v1h-1zM566 367h1v1h-1zM566 368h1v1h-1zM566 369h1v1h-1zM566 370h1v1h-1zM561 371h6v1h-6z" fill="#6d84aa"/><path d="M562 367h3v1h-3zM562 368h2v1h-2zM562 369h1v1h-1zM564 369h1v1h-1zM565 370h1v1h-1zM566 371h1v1h-1z" fill="#14295a"/>
<text class="t" x="570.3 576.3 583.3 590.3 594.3 600.3 605.3" y="368">address</text><rect x="610" y="369" width="5" height="1" fill="#111"/><text class="t" x="615.3 618.3" y="368">id</text>
<rect x="548" y="370" width="21" height="3" fill="#fff"/>
<rect x="545" y="416" width="143" height="167" fill="#ffffe1" stroke="#0586cd" stroke-width="2"/>
<rect x="546" y="440" width="141" height="142" fill="#fff"/>
<rect x="546" y="439" width="141" height="1" fill="#0586cd"/>
<rect x="546" y="463" width="141" height="1" fill="#0586cd"/>
<path d="M589 422h12v1h-12zM588 423h14v1h-14zM588 424h14v1h-14zM588 425h1v1h-1zM595 425h1v1h-1zM601 425h1v1h-1zM588 426h1v1h-1zM595 426h1v1h-1zM601 426h1v1h-1zM588 427h1v1h-1zM595 427h1v1h-1zM601 427h1v1h-1zM588 428h14v1h-14zM588 429h1v1h-1zM595 429h1v1h-1zM601 429h1v1h-1zM588 430h1v1h-1zM595 430h1v1h-1zM601 430h1v1h-1zM588 431h1v1h-1zM595 431h1v1h-1zM601 431h1v1h-1zM589 432h12v1h-12z" fill="#128ad1"/><path d="M589 425h6v1h-6zM596 425h5v1h-5zM589 426h6v1h-6zM596 426h5v1h-5zM589 427h6v1h-6zM596 427h5v1h-5z" fill="#62bdee"/>
<text class="t" x="606.5 612.5 619.5 626.5 630.5 636.5 641.5" y="432">address</text>
<path transform="translate(549 447)" d="M0.3 2.1L2.5 0.6V7.5M0 7.5H4.1M5.4 2.0Q5.5 0.5 7.5 0.5Q9.5 0.5 9.5 2.1Q9.5 3.2 8.4 4.3L5.6 7.1V7.5H10M11 0.5H15.4L13.1 3.5Q15.5 3.5 15.5 5.6Q15.5 7.5 13.4 7.5Q11.8 7.5 11.2 6.2" fill="none" stroke="#128ad1" stroke-width="1.15" stroke-linejoin="round"/>
<path d="M560 452h3v1h-3zM559 453h1v1h-1zM563 453h1v1h-1zM559 454h1v1h-1zM563 454h1v1h-1zM559 455h1v1h-1zM563 455h1v1h-1zM560 456h1v1h-1zM562 456h1v1h-1zM560 457h1v1h-1zM562 457h1v1h-1z" fill="#e8820e"/><path d="M560 453h3v1h-3z" fill="#ffe6a6"/><path d="M560 454h3v1h-3zM560 455h2v1h-2zM561 456h1v1h-1zM561 457h1v1h-1z" fill="#fffaf0"/><path d="M562 455h1v1h-1z" fill="#bfe2f8"/><path d="M560 458h3v1h-3zM561 459h1v1h-1z" fill="#3b5487"/>
<text class="b" x="568 571" y="456">id</text>
<path d="M550 472h3v1h-3zM555 472h3v1h-3zM561 472h3v1h-3zM549 473h5v1h-5zM555 473h4v1h-4zM560 473h5v1h-5zM549 474h2v1h-2zM552 474h2v1h-2zM555 474h1v1h-1zM558 474h1v1h-1zM560 474h2v1h-2zM549 475h1v1h-1zM553 475h1v1h-1zM555 475h4v1h-4zM560 475h2v1h-2zM549 476h5v1h-5zM555 476h1v1h-1zM558 476h1v1h-1zM560 476h2v1h-2zM549 477h2v1h-2zM552 477h2v1h-2zM555 477h4v1h-4zM560 477h5v1h-5zM549 478h1v1h-1zM553 478h1v1h-1zM555 478h3v1h-3zM561 478h3v1h-3z" fill="#128ad1"/>
<text class="t" x="568.3 574.3 577.3 581.3" y="480">city</text>
<path d="M550 491h3v1h-3zM555 491h3v1h-3zM561 491h3v1h-3zM549 492h5v1h-5zM555 492h4v1h-4zM560 492h5v1h-5zM549 493h2v1h-2zM552 493h2v1h-2zM555 493h1v1h-1zM558 493h1v1h-1zM560 493h2v1h-2zM549 494h1v1h-1zM553 494h1v1h-1zM555 494h4v1h-4zM560 494h2v1h-2zM549 495h5v1h-5zM555 495h1v1h-1zM558 495h1v1h-1zM560 495h2v1h-2zM549 496h2v1h-2zM552 496h2v1h-2zM555 496h4v1h-4zM560 496h5v1h-5zM549 497h1v1h-1zM553 497h1v1h-1zM555 497h3v1h-3zM561 497h3v1h-3z" fill="#128ad1"/>
<text class="t" x="568.3 574.3 581.3 592.3 599.3 602.3 608.3 619.3 625.3 632.3" y="499">complement</text>
<path d="M550 510h3v1h-3zM555 510h3v1h-3zM561 510h3v1h-3zM549 511h5v1h-5zM555 511h4v1h-4zM560 511h5v1h-5zM549 512h2v1h-2zM552 512h2v1h-2zM555 512h1v1h-1zM558 512h1v1h-1zM560 512h2v1h-2zM549 513h1v1h-1zM553 513h1v1h-1zM555 513h4v1h-4zM560 513h2v1h-2zM549 514h5v1h-5zM555 514h1v1h-1zM558 514h1v1h-1zM560 514h2v1h-2zM549 515h2v1h-2zM552 515h2v1h-2zM555 515h4v1h-4zM560 515h5v1h-5zM549 516h1v1h-1zM553 516h1v1h-1zM555 516h3v1h-3zM561 516h3v1h-3z" fill="#128ad1"/>
<text class="t" x="568.3 575.3 581.3 584.3 591.3 598.3 605.3 612.3 616.3 623.3 630.3 637.3" y="518">neighborhood</text><rect x="644" y="519" width="5" height="1" fill="#111"/><text class="t" x="649.3 656.3 662.3 673.3" y="518">name</text>
<path d="M550 529h3v1h-3zM555 529h3v1h-3zM561 529h3v1h-3zM549 530h5v1h-5zM555 530h4v1h-4zM560 530h5v1h-5zM549 531h2v1h-2zM552 531h2v1h-2zM555 531h1v1h-1zM558 531h1v1h-1zM560 531h2v1h-2zM549 532h1v1h-1zM553 532h1v1h-1zM555 532h4v1h-4zM560 532h2v1h-2zM549 533h5v1h-5zM555 533h1v1h-1zM558 533h1v1h-1zM560 533h2v1h-2zM549 534h2v1h-2zM552 534h2v1h-2zM555 534h4v1h-4zM560 534h5v1h-5zM549 535h1v1h-1zM553 535h1v1h-1zM555 535h3v1h-3zM561 535h3v1h-3z" fill="#128ad1"/>
<text class="t" x="568.3 573.3 577.3 583.3 587.3" y="537">state</text>
<path d="M550 548h3v1h-3zM555 548h3v1h-3zM561 548h3v1h-3zM549 549h5v1h-5zM555 549h4v1h-4zM560 549h5v1h-5zM549 550h2v1h-2zM552 550h2v1h-2zM555 550h1v1h-1zM558 550h1v1h-1zM560 550h2v1h-2zM549 551h1v1h-1zM553 551h1v1h-1zM555 551h4v1h-4zM560 551h2v1h-2zM549 552h5v1h-5zM555 552h1v1h-1zM558 552h1v1h-1zM560 552h2v1h-2zM549 553h2v1h-2zM552 553h2v1h-2zM555 553h4v1h-4zM560 553h5v1h-5zM549 554h1v1h-1zM553 554h1v1h-1zM555 554h3v1h-3zM561 554h3v1h-3z" fill="#128ad1"/>
<text class="t" x="568.3 573.3 577.3 581.3 587.3 593.3" y="556">street</text><rect x="597" y="557" width="5" height="1" fill="#111"/><text class="t" x="602.3 609.3 615.3 626.3" y="556">name</text>
<path d="M550 567h3v1h-3zM555 567h3v1h-3zM561 567h3v1h-3zM549 568h5v1h-5zM555 568h4v1h-4zM560 568h5v1h-5zM549 569h2v1h-2zM552 569h2v1h-2zM555 569h1v1h-1zM558 569h1v1h-1zM560 569h2v1h-2zM549 570h1v1h-1zM553 570h1v1h-1zM555 570h4v1h-4zM560 570h2v1h-2zM549 571h5v1h-5zM555 571h1v1h-1zM558 571h1v1h-1zM560 571h2v1h-2zM549 572h2v1h-2zM552 572h2v1h-2zM555 572h4v1h-4zM560 572h5v1h-5zM549 573h1v1h-1zM553 573h1v1h-1zM555 573h3v1h-3zM561 573h3v1h-3z" fill="#128ad1"/>
<text class="t" x="568.3 573.3 576.3" y="575">zip</text><rect x="583" y="576" width="5" height="1" fill="#111"/><text class="t" x="588.3 594.3 601.3 608.3" y="575">code</text>
</svg>
</body></html>
